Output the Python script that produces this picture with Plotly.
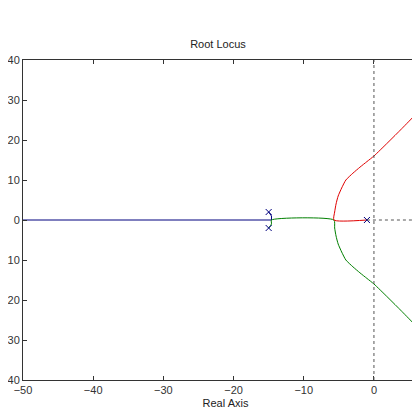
import plotly.graph_objects as go

# Root locus branches
red_x = [-1, -5.7, -5.6, -5.4, -5.1, -4.6, -4.0, -3.0, -2.0, -1.0, 0, 2, 4, 6, 7.7, 10]
red_y = [0, 0, 2, 4, 6, 8, 10, 11.7, 13.2, 14.6, 16, 19.4, 22.9, 26.5, 29.6, 33.7]
green_x = [-15, -14.6, -14.6, -5.7, -5.6, -5.4, -5.1, -4.6, -4.0, -3.0, -2.0, -1.0, 0, 2, 4, 6, 7.7, 10]
green_y = [-2, -1, 0, 0, -2, -4, -6, -8, -10, -11.7, -13.2, -14.6, -16, -19.4, -22.9, -26.5, -29.6, -33.7]
blue_x = [-15, -14.6, -14.6, -50]
blue_y = [2, 1, 0, 0]
pole_x = [-15, -15, -1]
pole_y = [2, -2, 0]

fig = go.Figure()
fig.add_trace(go.Scatter(x=blue_x, y=blue_y, mode="lines", line=dict(color="#00007f", width=1)))
fig.add_trace(go.Scatter(x=green_x, y=green_y, mode="lines", line=dict(color="#007f00", width=1, shape="spline", smoothing=0.6)))
fig.add_trace(go.Scatter(x=red_x, y=red_y, mode="lines", line=dict(color="#e00000", width=1, shape="spline", smoothing=0.6)))
fig.add_trace(go.Scatter(x=pole_x, y=pole_y, mode="markers",
                         marker=dict(symbol="x-thin", size=6, line=dict(color="#00007f", width=1))))

fig.add_shape(type="line", x0=0, x1=0, y0=-40, y1=40, line=dict(color="#555", width=1, dash="3px,3px"))
fig.add_shape(type="line", x0=-1, x1=7.7, y0=0, y1=0, line=dict(color="#555", width=1, dash="3px,3px"))

axis = dict(showgrid=False, zeroline=False, showline=True, linecolor="#333", mirror="ticks",
            ticks="inside", ticklen=4, tickcolor="#333", tickfont=dict(size=11, color="#333"),
            automargin=False)
fig.update_xaxes(range=[-50, 7.7], dtick=10, title=dict(text="Real Axis", font=dict(size=11), standoff=4), **axis)
fig.update_yaxes(range=[-40, 40], dtick=10, **axis)
fig.update_layout(
    width=420, height=420, showlegend=False,
    margin=dict(l=15, r=0, t=52, b=48),
    plot_bgcolor="white", paper_bgcolor="white",
    font=dict(family="Liberation Sans, Arial", size=11, color="#222"),
    title=dict(text="Root Locus", x=0.5, xanchor="center", y=0.905, yanchor="bottom", font=dict(size=11)),
)
fig.write_html("out.html")
